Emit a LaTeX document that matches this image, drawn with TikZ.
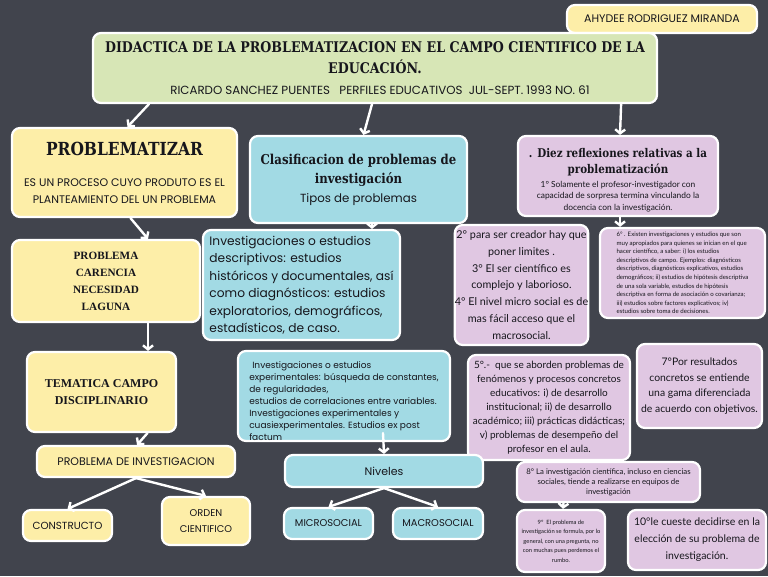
\documentclass[tikz,border=0pt]{standalone}
\usepackage{fontspec}
\setmainfont{Poppins}
\newfontfamily\slabfont[FakeStretch=0.86]{DejaVu Serif}
\newfontfamily\didonefont{Liberation Serif}
\newfontfamily\latofont{Lato}
\usetikzlibrary{arrows.meta, positioning}
\definecolor{slatebg}{RGB}{65, 68, 77}
\definecolor{butter}{RGB}{253, 238, 168}
\definecolor{sage}{RGB}{215, 230, 182}
\definecolor{skyblue}{RGB}{162, 218, 228}
\definecolor{lilac}{RGB}{224, 199, 226}
\definecolor{inktext}{RGB}{22, 22, 28}
\tikzstyle{card} = [draw=white, line width=2.2pt, rounded corners=8pt, inner sep=0pt, align=center, text=inktext]
\tikzstyle{ybox} = [card, fill=butter]
\tikzstyle{gbox} = [card, fill=sage]
\tikzstyle{bbox} = [card, fill=skyblue]
\tikzstyle{pbox} = [card, fill=lilac]
\tikzstyle{line} = [draw=white, line width=2.4pt, line cap=round, -{Straight Barb[length=4pt, width=10pt]}]
\tikzset{boxsize/.style 2 args={minimum width=#1, minimum height=#2}}

\begin{document}
\begin{tikzpicture}[x=1pt, y=-1pt]
    \fill[slatebg] (0,0) rectangle (768,576);
    \useasboundingbox (0,0) rectangle (768,576);

    % header
    \node (author) [ybox, boxsize={190pt}{28pt}, font=\fontsize{11}{12}\selectfont] at (662,19) {AHYDEE RODRIGUEZ MIRANDA};
    \node (title) [gbox, boxsize={564pt}{70pt}, font=\fontsize{15}{21}\selectfont] at (375,68)
        {\slabfont\bfseries\fontsize{14.7}{21}\selectfont DIDACTICA DE LA PROBLEMATIZACION EN EL CAMPO CIENTIFICO DE LA\\
         \slabfont\bfseries\fontsize{14.7}{21}\selectfont EDUCACIÓN.\\
         \hspace*{10pt}\fontsize{11.8}{12}\selectfont RICARDO SANCHEZ PUENTES \ \ PERFILES EDUCATIVOS \ JUL-SEPT. 1993 NO. 61};

    % left column
    \node (problematizar) [ybox, boxsize={225pt}{89pt}, font=\fontsize{11}{17}\selectfont] at (124.5,172.5)
        {\slabfont\bfseries\fontsize{18}{22}\selectfont PROBLEMATIZAR\\[14pt]
         \fontsize{11}{17}\selectfont ES UN PROCESO CUYO PRODUTO ES EL\\
         \fontsize{11}{17}\selectfont PLANTEAMIENTO DEL UN PROBLEMA};
    \node (problema) [ybox, boxsize={188pt}{82pt}, font=\didonefont\bfseries\fontsize{11.2}{17}\selectfont] at (106,281)
        {PROBLEMA\\ CARENCIA\\ NECESIDAD\\ LAGUNA};
    \node (tematica) [ybox, boxsize={149pt}{80pt}, font=\didonefont\bfseries\fontsize{12}{17}\selectfont] at (101.5,392)
        {TEMATICA CAMPO\\ DISCIPLINARIO};
    \node (probinv) [ybox, boxsize={198pt}{31pt}, font=\fontsize{11}{12}\selectfont] at (136,461.5) {PROBLEMA DE INVESTIGACION};
    \node (constructo) [ybox, boxsize={89pt}{31pt}, font=\fontsize{10.3}{12}\selectfont] at (67.5,525.5) {CONSTRUCTO};
    \node (orden) [ybox, boxsize={88pt}{48pt}, font=\fontsize{9.8}{16}\selectfont] at (206,521) {ORDEN\\ CIENTIFICO};

    % middle column
    \node (clasif) [bbox, boxsize={217pt}{87pt}, font=\fontsize{11.8}{19}\selectfont] at (358.5,179.5)
        {\slabfont\bfseries\fontsize{13.6}{19}\selectfont Clasificacion de problemas de\\
         \slabfont\bfseries\fontsize{13.6}{19}\selectfont investigación\\
         \fontsize{11.8}{19}\selectfont Tipos de problemas};
    \node (descrip) [bbox, boxsize={197pt}{110pt}, align=left, font=\fontsize{12.2}{17.5}\selectfont] at (301.5,285)
        {Investigaciones o estudios\\ descriptivos: estudios\\ históricos y documentales, así\\
         como diagnósticos: estudios\\ exploratorios, demográficos,\\ estadísticos, de caso.};
    \node (experim) [bbox, boxsize={212pt}{90pt}, align=left, font=\fontsize{9}{12}\selectfont] at (344,396)
        {\rule{0pt}{17pt}\hspace*{3pt}Investigaciones o estudios\\ experimentales: búsqueda de constantes,\\ de regularidades,\\
         estudios de correlaciones entre variables.\\ Investigaciones experimentales y\\
         cuasiexperimentales. Estudios ex post\\ factum};

    % right column
    \node (diez) [pbox, boxsize={200pt}{80pt}, font=\latofont\fontsize{8.4}{11.5}\selectfont] at (618,176)
        {\rule{0pt}{17pt}\slabfont\bfseries\fontsize{12}{15}\selectfont . Diez reflexiones relativas a la\\[5pt]
         \slabfont\bfseries\fontsize{12}{15}\selectfont problematización\\[2pt]
         \latofont\fontsize{8.4}{11.5}\selectfont 1° Solamente el profesor-investigador con\\
         \latofont\fontsize{8.4}{11.5}\selectfont capacidad de sorpresa termina vinculando la\\
         \latofont\fontsize{8.4}{11.5}\selectfont docencia con la investigación.};
    \node (dos) [pbox, boxsize={133pt}{120pt}, font=\latofont\fontsize{10.8}{16.8}\selectfont] at (521.5,285)
        {2° para ser creador hay que\\ poner limites .\\ 3° El ser científico es\\ complejo y laborioso.\\
         4° El nivel micro social es de\\ mas fácil acceso que el\\ macrosocial.};
    \node (seis) [pbox, boxsize={165pt}{90pt}, align=left, font=\latofont\fontsize{6.1}{8.6}\selectfont] at (682.5,273)
        {6° . Existen investigaciones y estudios que son\\ muy apropiados para quienes se inician en el que\\
         hacer científico, a saber: i) los estudios\\ descriptivos de campo. Ejemplos: diagnósticos\\
         descriptivos, diagnósticos explicativos, estudios\\ demográficos; ii) estudios de hipótesis descriptiva\\
         de una sola variable, estudios de hipótesis\\ descriptiva en forma de asociación o covarianza;\\
         iii) estudios sobre factores explicativos; iv)\\ estudios sobre toma de decisiones.};
    \node (cinco) [pbox, boxsize={162pt}{105pt}, font=\latofont\fontsize{10}{14}\selectfont] at (549,407.5)
        {5°.- \ que se aborden problemas de\\ fenómenos y procesos concretos\\ educativos: i) de desarrollo\\
         institucional; ii) de desarrollo\\ académico; iii) prácticas didácticas;\\
         v) problemas de desempeño del\\ profesor en el aula.};
    \node (siete) [pbox, boxsize={125pt}{84pt}, font=\latofont\fontsize{10.4}{15.5}\selectfont] at (699.5,386)
        {7°Por resultados\\ concretos se entiende\\ una gama diferenciada\\ de acuerdo con objetivos.};
    \node (ocho) [pbox, boxsize={183pt}{40pt}, font=\latofont\fontsize{7.8}{10}\selectfont] at (608.5,482)
        {8° La investigación científica, incluso en ciencias\\ sociales, tiende a realizarse en equipos de\\ investigación};
    \node (nueve) [pbox, boxsize={88pt}{62pt}, font=\latofont\fontsize{5.8}{9.5}\selectfont] at (561,541)
        {9° \ El problema de\\ investigación se formula, por lo\\ general, con una pregunta, no\\ con muchas pues perdemos el\\ rumbo.};
    \node (diezb) [pbox, boxsize={138pt}{60pt}, font=\latofont\fontsize{10.5}{17}\selectfont] at (697,540)
        {10°le cueste decidirse en la\\ elección de su problema de\\ investigación.};

    % levels
    \node (niveles) [bbox, boxsize={198pt}{32pt}, font=\fontsize{11}{12}\selectfont] at (384,471) {Niveles};
    \node (micro) [bbox, boxsize={89pt}{31pt}, font=\fontsize{9.9}{12}\selectfont] at (328.5,523.5) {MICROSOCIAL};
    \node (macro) [bbox, boxsize={90pt}{31pt}, font=\fontsize{9.9}{12}\selectfont] at (438,523.5) {MACROSOCIAL};

    \draw [line] ([xshift=57pt]title.south west) -- ([xshift=3pt]problematizar.north);
    \draw [line] ([xshift=-3pt]title.south) -- ([xshift=5pt]clasif.north);
    \draw [line] ([xshift=-37pt]title.south east) -- ([xshift=2pt]diez.north);
    \draw [line] ([xshift=6pt]problematizar.south) -- ([xshift=42pt]problema.north);
    \draw [line] ([xshift=42pt]problema.south) -- ([xshift=46.5pt]tematica.north);
    \draw [line] ([xshift=46pt]tematica.south) -- ([xshift=1pt]probinv.north);
    \draw [line] (probinv.south) -- (constructo.north);
    \draw [line] (probinv.south) -- (orden.north);
    \draw [line] ([xshift=13.5pt]clasif.south) -- ([xshift=70.5pt]descrip.north);
    \draw [line] ([xshift=39pt,yshift=9pt]experim.south) -- (niveles.north);
    \draw [line] (niveles.south) -- (micro.north);
    \draw [line] (niveles.south) -- (macro.north);
    \draw [line] ([xshift=2pt]diez.south) -- ([xshift=-62.5pt]seis.north);
    \draw [line] ([xshift=-45pt]ocho.south) -- ([xshift=2pt]nueve.north);
\end{tikzpicture}
\end{document}
